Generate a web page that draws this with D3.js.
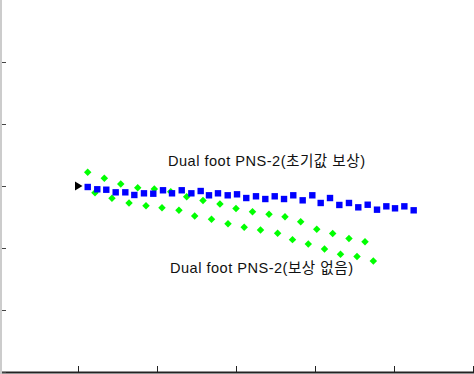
<!DOCTYPE html>
<html>
<head>
<meta charset="utf-8">
<script src="https://cdn.jsdelivr.net/npm/d3@7"></script>
<style>
  body { margin: 0; background: #fff; }
  svg { display: block; }
  .axis path, .axis line { shape-rendering: crispEdges; }
  .label { font-family: "Liberation Sans", Arial, "Noto Sans CJK KR", sans-serif; font-size: 14.6px; fill: #111; }
</style>
</head>
<body>
<svg id="chart" width="474" height="374"></svg>
<script>
// start marker
var startX = [0];
var startY = [0];

// Dual foot PNS-2 (초기값 보상) - blue squares
var blueX = [0.123, 0.244, 0.358, 0.477, 0.599, 0.713, 0.835, 0.953, 1.076, 1.190, 1.313, 1.435,
             1.553, 1.658, 1.772, 1.895, 2.013, 2.130, 2.253, 2.371, 2.490, 2.608, 2.725, 2.844,
             2.966, 3.072, 3.190, 3.308, 3.430, 3.548, 3.667, 3.785, 3.903, 4.013, 4.131, 4.249];
var blueY = [-0.016, -0.053, -0.060, -0.102, -0.102, -0.145, -0.118, -0.124, -0.069, -0.118, -0.069, -0.118,
             -0.081, -0.150, -0.118, -0.150, -0.134, -0.194, -0.166, -0.210, -0.166, -0.210, -0.150, -0.231,
             -0.150, -0.274, -0.194, -0.306, -0.274, -0.344, -0.302, -0.382, -0.328, -0.360, -0.328, -0.392];

// Dual foot PNS-2, upper green diamonds
var greenAX = [0.123, 0.333, 0.541, 0.756, 0.966, 1.174, 1.376, 1.582, 1.797, 2.000, 2.209, 2.418,
               2.620, 2.819, 3.022, 3.224, 3.430, 3.633];
var greenAY = [0.221, 0.124, 0.032, -0.027, -0.048, -0.092, -0.173, -0.234, -0.290, -0.363, -0.415, -0.455,
               -0.497, -0.577, -0.698, -0.766, -0.848, -0.898];

// Dual foot PNS-2 (보상 없음), lower green diamonds
var greenBX = [0.215, 0.430, 0.646, 0.861, 1.063, 1.278, 1.477, 1.690, 1.899, 2.104, 2.310, 2.527,
               2.715, 2.915, 3.120, 3.323, 3.532, 3.738];
var greenBY = [-0.108, -0.198, -0.274, -0.318, -0.350, -0.392, -0.484, -0.537, -0.608, -0.666, -0.710, -0.763,
               -0.865, -0.935, -1.016, -1.101, -1.137, -1.210];

var xTicks = [0, 1, 2, 3, 4, 5];
var yTicks = [-3, -2, -1, 0, 1, 2];

var svg = d3.select("#chart"),
    width = +svg.attr("width"),
    height = +svg.attr("height");

var x = d3.scaleLinear().domain([0, 5]).range([78, 473]);
var y = d3.scaleLinear().domain([-3, 3]).range([372, 0]);

// bottom axis
var xAxis = svg.append("g")
    .attr("class", "axis")
    .attr("transform", "translate(0,372)")
    .call(d3.axisTop(x).tickValues(xTicks).tickSize(6).tickFormat(""));
xAxis.select(".domain").remove();
xAxis.selectAll("line").attr("stroke", "#222").attr("stroke-width", 1.3);
svg.append("line")
    .attr("x1", 0).attr("x2", width)
    .attr("y1", 372.5).attr("y2", 372.5)
    .attr("stroke", "#222").attr("stroke-width", 2.2);

// left axis
var yAxis = svg.append("g")
    .attr("class", "axis")
    .attr("transform", "translate(1,0)")
    .call(d3.axisRight(y).tickValues(yTicks).tickSize(5).tickFormat(""));
yAxis.select(".domain").remove();
yAxis.selectAll("line").attr("stroke", "#444").attr("stroke-width", 1.3);
svg.append("line")
    .attr("x1", 1).attr("x2", 1)
    .attr("y1", 0).attr("y2", height)
    .attr("stroke", "#ccc").attr("stroke-width", 2);

function pts(xs, ys) {
  return xs.map(function(d, i) { return { x: d, y: ys[i] }; });
}

// lower green
svg.selectAll(".gb")
    .data(pts(greenBX, greenBY))
  .enter().append("path")
    .attr("class", "gb")
    .attr("d", d3.symbol().type(d3.symbolSquare).size(28))
    .attr("transform", function(d) { return "translate(" + x(d.x) + "," + y(d.y) + ") rotate(45)"; })
    .attr("fill", "#00ff00");

// upper green
svg.selectAll(".ga")
    .data(pts(greenAX, greenAY))
  .enter().append("path")
    .attr("class", "ga")
    .attr("d", d3.symbol().type(d3.symbolSquare).size(28))
    .attr("transform", function(d) { return "translate(" + x(d.x) + "," + y(d.y) + ") rotate(45)"; })
    .attr("fill", "#00ff00");

// blue squares
svg.selectAll(".bl")
    .data(pts(blueX, blueY))
  .enter().append("rect")
    .attr("class", "bl")
    .attr("x", function(d) { return x(d.x) - 3.2; })
    .attr("y", function(d) { return y(d.y) - 3.2; })
    .attr("width", 6.4)
    .attr("height", 6.4)
    .attr("fill", "#0000ff");

// start triangle
svg.selectAll(".st")
    .data(pts(startX, startY))
  .enter().append("path")
    .attr("class", "st")
    .attr("d", "M-3,-4.5L4.5,0L-3,4.5Z")
    .attr("transform", function(d) { return "translate(" + x(d.x) + "," + y(d.y) + ")"; })
    .attr("fill", "#000");

// labels
svg.append("text")
    .attr("class", "label")
    .attr("x", 168)
    .attr("y", 166)
    .attr("textLength", 197)
    .attr("lengthAdjust", "spacing")
    .text("Dual foot PNS-2(초기값 보상)");

svg.append("text")
    .attr("class", "label")
    .attr("x", 170)
    .attr("y", 273)
    .attr("textLength", 183)
    .attr("lengthAdjust", "spacing")
    .text("Dual foot PNS-2(보상 없음)");
</script>
</body>
</html>
